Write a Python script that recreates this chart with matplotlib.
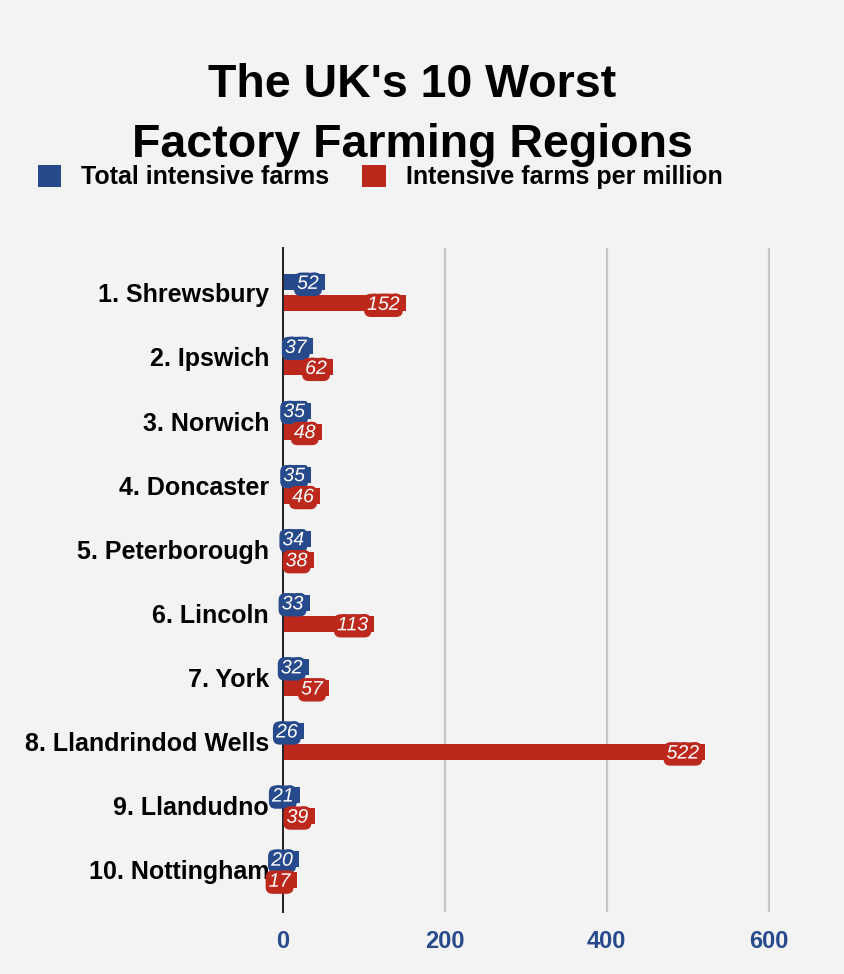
import matplotlib.pyplot as plt
import matplotlib.patheffects as pe
from matplotlib.patches import Patch
import numpy as np

plt.rcParams['font.family'] = ['Liberation Sans', 'DejaVu Sans']

regions = ['1. Shrewsbury', '2. Ipswich', '3. Norwich', '4. Doncaster',
           '5. Peterborough', '6. Lincoln', '7. York', '8. Llandrindod Wells',
           '9. Llandudno', '10. Nottingham']
total_farms = [52, 37, 35, 35, 34, 33, 32, 26, 21, 20]
per_million = [152, 62, 48, 46, 38, 113, 57, 522, 39, 17]
x_ticks = [0, 200, 400, 600]

BLUE = '#274a8c'
RED = '#bd281d'
BG = '#f3f3f3'

fig = plt.figure(figsize=(8.44, 9.74), dpi=100, facecolor=BG)
ax = fig.add_axes([283 / 844, 62 / 974, 518 / 844, 664 / 974], facecolor=BG)

y = np.arange(len(regions))
off = 0.164
h = 0.25
ax.barh(y - off, total_farms, height=h, color=BLUE, zorder=3)
ax.barh(y + off, per_million, height=h, color=RED, zorder=3)

# value labels: white italic in a rounded box of the bar colour
for yy, vals, col in [(y - off, total_farms, BLUE), (y + off, per_million, RED)]:
    for yi, v in zip(yy, vals):
        t = ax.annotate(str(v), xy=(v, yi), xytext=(-4.5, 0), textcoords='offset points',
                        ha='right', va='center_baseline', color='white', fontsize=14,
                        fontstyle='italic', zorder=5, annotation_clip=False,
                        bbox=dict(boxstyle='round,pad=0.16,rounding_size=0.35',
                                  facecolor=col, edgecolor='none'))
        t.set_path_effects([pe.withStroke(linewidth=4, foreground=col)])

ax.set_xlim(0, 640)
ax.set_ylim(9.66, -0.7)
ax.set_xticks(x_ticks)
ax.set_xticklabels([str(v) for v in x_ticks])
ax.set_yticks(y)
ax.set_yticklabels(regions)
ax.tick_params(axis='y', length=0, pad=10, labelsize=18)
ax.tick_params(axis='x', length=0, pad=13, labelsize=17, labelcolor=BLUE)
for lab in ax.get_xticklabels() + ax.get_yticklabels():
    lab.set_fontweight('bold')

ax.grid(axis='x', color='#c6c6c6', linewidth=1.6, zorder=0)
for s in ['top', 'right', 'bottom']:
    ax.spines[s].set_visible(False)
ax.spines['left'].set_color('#222222')
ax.spines['left'].set_linewidth(1.4)
ax.spines['left'].set_zorder(4)

fig.text(412 / 844, 1 - 97 / 974, "The UK's 10 Worst", ha='center', va='baseline',
         fontsize=33.5, fontweight='bold')
fig.text(412 / 844, 1 - 157 / 974, "Factory Farming Regions", ha='center', va='baseline',
         fontsize=33.5, fontweight='bold')

handles = [Patch(facecolor=BLUE, edgecolor='none'), Patch(facecolor=RED, edgecolor='none')]
fig.legend(handles, ['Total intensive farms', 'Intensive farms per million'],
           loc='center', bbox_to_anchor=(380 / 844, 1 - 177 / 974), ncol=2,
           frameon=False, handlelength=0.95, handleheight=1.0,
           handletextpad=0.8, columnspacing=1.3,
           prop={'weight': 'bold', 'size': 18})

fig.savefig('out.png', dpi=100, facecolor=BG)
